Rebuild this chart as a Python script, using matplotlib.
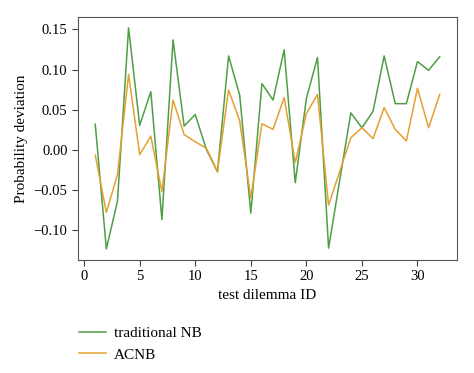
import matplotlib
matplotlib.use('Agg')
import matplotlib.pyplot as plt

# Dados
dilema_id = list(range(1, 33))
nb_tradicional = [0.032, -0.1235, -0.064, 0.152, 0.0305, 0.0725, -0.087, 0.137,
                  0.0296, 0.044, 0.0005, -0.0275, 0.117, 0.068, -0.079, 0.0825,
                  0.062, 0.1246, -0.041, 0.064, 0.115, -0.1225, -0.038, 0.046,
                  0.0275, 0.048, 0.117, 0.0575, 0.0575, 0.11, 0.099, 0.116]
acnb = [-0.0066, -0.078, -0.031, 0.094, -0.006, 0.017, -0.052, 0.062,
        0.019, 0.010, 0.002, -0.027, 0.0746, 0.036, -0.060, 0.0325,
        0.0255, 0.065, -0.016, 0.045, 0.069, -0.069, -0.027, 0.015,
        0.0275, 0.014, 0.0525, 0.0255, 0.011, 0.0767, 0.0275, 0.069]

plt.rcParams['font.family'] = ['Liberation Serif', 'DejaVu Serif']
plt.rcParams['axes.unicode_minus'] = True

fig = plt.figure(figsize=(4.74, 3.73), dpi=100)
ax = fig.add_axes([0.1646, 0.303, 0.7994, 0.652])

linha1, = ax.plot(dilema_id, nb_tradicional, color='#4f9e45', linewidth=1.1, label='traditional NB')
linha2, = ax.plot(dilema_id, acnb, color='#e5a032', linewidth=1.1, label='ACNB')

ax.set_xticks([0, 5, 10, 15, 20, 25, 30])
ax.set_yticks([-0.10, -0.05, 0.00, 0.05, 0.10, 0.15])
ax.set_yticklabels(['\u22120.10', '\u22120.05', '0.00', '0.05', '0.10', '0.15'])
ax.tick_params(labelsize=10.5, color='#444444', length=4)
ax.set_xlabel('test dilemma ID', fontsize=11)
ax.set_ylabel('Probability deviation', fontsize=11)
for s in ax.spines.values():
    s.set_color('#555555')

# Legenda abaixo do grafico
fig.legend(handles=[linha1, linha2], loc='upper left', bbox_to_anchor=(0.137, 0.161),
           frameon=False, fontsize=11, handlelength=1.8, handletextpad=0.5,
           labelspacing=0.5)

fig.savefig('out.png', dpi=100)
